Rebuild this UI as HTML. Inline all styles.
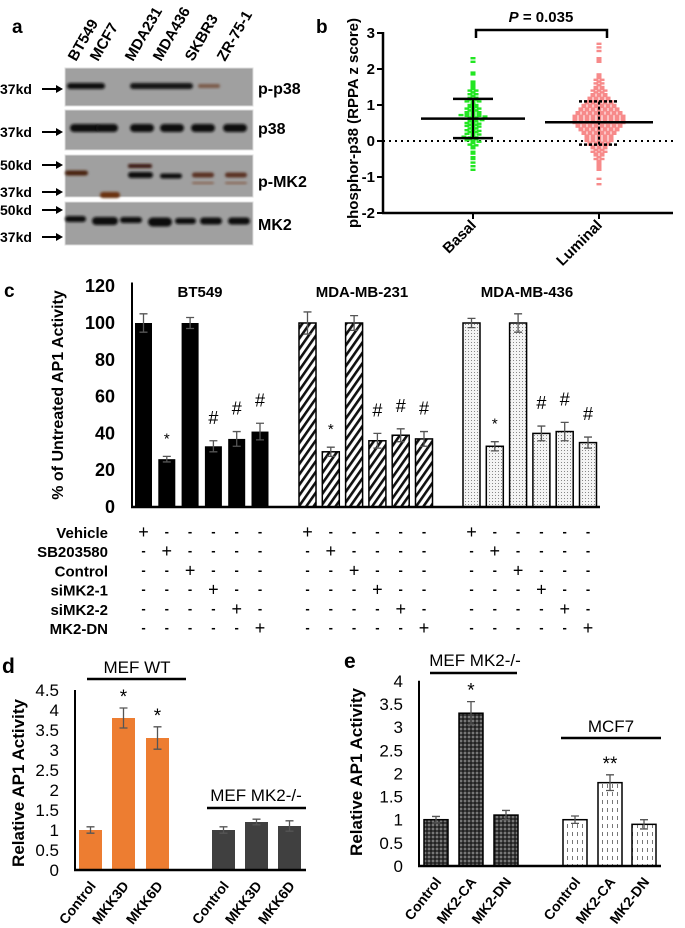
<!DOCTYPE html>
<html><head><meta charset="utf-8"><style>
html,body{margin:0;padding:0;background:#fff;}
svg{display:block;font-family:"Liberation Sans",Arial,sans-serif;}
</style></head><body>
<svg id="fig" width="685" height="928" viewBox="0 0 685 928" xmlns="http://www.w3.org/2000/svg">
<defs>
<filter id="blur" x="-20%" y="-50%" width="140%" height="200%"><feGaussianBlur stdDeviation="1.3"/></filter>
<pattern id="hatch" width="6" height="6" patternUnits="userSpaceOnUse" patternTransform="rotate(35)"><rect width="6" height="6" fill="#fff"/><rect width="2.6" height="6" fill="#111"/></pattern>
<pattern id="dots" width="3" height="3" patternUnits="userSpaceOnUse"><rect width="3" height="3" fill="#f4f4f4"/><rect x="0" y="0" width="1" height="1" fill="#888"/></pattern>
<pattern id="check" width="4" height="4" patternUnits="userSpaceOnUse"><rect width="4" height="4" fill="#3a3a3a"/><rect x="0" y="0" width="2" height="2" fill="#777"/><rect x="2" y="2" width="2" height="2" fill="#222"/></pattern>
<pattern id="dash" width="5" height="8" patternUnits="userSpaceOnUse"><rect width="5" height="8" fill="#fff"/><rect x="2" y="0" width="1" height="4" fill="#777"/></pattern>
</defs>
<g id="panelA"></g>
<g id="panelB"></g>
<g id="panelC"></g>
<g id="panelD"></g>
<g id="panelE"></g>
</svg>
<script>
// ---------- Panel B data ----------
const bCategories=['Basal','Luminal'];
const bTicks=[3,2,1,0,-1,-2];
const bBasal=[2.3,2.2,1.9,1.85,1.65,1.6,1.55,1.5,1.45,1.4,1.4,1.35,1.3,1.3,1.25,1.2,1.2,1.15,1.15,1.1,1.1,1.1,1.05,1.0,1.0,0.95,0.95,0.9,0.9,0.9,0.85,0.85,0.8,0.8,0.8,0.75,0.75,0.75,0.72,0.7,0.7,0.7,0.68,0.65,0.65,0.62,0.6,0.6,0.58,0.55,0.55,0.5,0.5,0.48,0.45,0.45,0.42,0.4,0.4,0.35,0.35,0.3,0.3,0.28,0.25,0.25,0.2,0.2,0.18,0.15,0.12,0.1,0.1,0.08,0.05,0.05,0.02,0.0,-0.02,-0.05,-0.1,-0.12,-0.15,-0.2,-0.3,-0.35,-0.45,-0.5,-0.6,-0.7,-0.8];
const bLuminal=[2.7,2.6,2.5,2.3,2.25,2.2,1.85,1.8,1.75,1.7,1.7,1.65,1.6,1.6,1.55,1.5,1.5,1.45,1.45,1.4,1.4,1.4,1.35,1.35,1.3,1.3,1.3,1.25,1.25,1.25,1.2,1.2,1.2,1.2,1.15,1.15,1.15,1.15,1.1,1.1,1.1,1.1,1.1,1.05,1.05,1.05,1.05,1.05,1.0,1.0,1.0,1.0,1.0,1.0,0.95,0.95,0.95,0.95,0.95,0.95,0.9,0.9,0.9,0.9,0.9,0.9,0.9,0.85,0.85,0.85,0.85,0.85,0.85,0.85,0.8,0.8,0.8,0.8,0.8,0.8,0.8,0.8,0.75,0.75,0.75,0.75,0.75,0.75,0.75,0.75,0.7,0.7,0.7,0.7,0.7,0.7,0.7,0.7,0.7,0.65,0.65,0.65,0.65,0.65,0.65,0.65,0.65,0.65,0.6,0.6,0.6,0.6,0.6,0.6,0.6,0.6,0.6,0.55,0.55,0.55,0.55,0.55,0.55,0.55,0.55,0.55,0.5,0.5,0.5,0.5,0.5,0.5,0.5,0.5,0.5,0.45,0.45,0.45,0.45,0.45,0.45,0.45,0.45,0.4,0.4,0.4,0.4,0.4,0.4,0.4,0.4,0.35,0.35,0.35,0.35,0.35,0.35,0.35,0.3,0.3,0.3,0.3,0.3,0.3,0.3,0.25,0.25,0.25,0.25,0.25,0.25,0.2,0.2,0.2,0.2,0.2,0.2,0.15,0.15,0.15,0.15,0.15,0.1,0.1,0.1,0.1,0.1,0.05,0.05,0.05,0.05,0.05,0.0,0.0,0.0,0.0,0.0,-0.05,-0.05,-0.05,-0.05,-0.1,-0.1,-0.1,-0.1,-0.15,-0.15,-0.15,-0.2,-0.2,-0.2,-0.25,-0.25,-0.3,-0.3,-0.3,-0.35,-0.35,-0.4,-0.4,-0.45,-0.5,-0.5,-0.55,-0.6,-0.65,-0.7,-0.75,-0.8,-1.05,-1.2];
const bMeans=[0.62,0.52];
const bSDlow=[0.08,-0.1];
const bSDhigh=[1.17,1.1];
// ---------- Panel C data ----------
const cGroups=['BT549','MDA-MB-231','MDA-MB-436'];
const cBT549=[100,26,100,33,37,41];
const cMDA231=[100,30,100,36,39,37];
const cMDA436=[100,33,100,40,41,35];
const cErrBT549=[5,1.5,3,3,4,4.5];
const cErrMDA231=[6,2.5,4,4,3.5,4];
const cErrMDA436=[2.5,2.5,5,4,5,3];
const cSig=['','*','','#','#','#'];
const cTicks=[0,20,40,60,80,100,120];
const cTreatments=['Vehicle','SB203580','Control','siMK2-1','siMK2-2','MK2-DN'];
// ---------- Panel D data ----------
const dCategories=['Control','MKK3D','MKK6D','Control','MKK3D','MKK6D'];
const dValues=[1.0,3.8,3.3,1.0,1.2,1.1];
const dErrors=[0.08,0.25,0.28,0.08,0.07,0.13];
const dSig=['','*','*','','',''];
const dTicks=['0','0.5','1','1.5','2','2.5','3','3.5','4','4.5'];
// ---------- Panel E data ----------
const eCategories=['Control','MK2-CA','MK2-DN','Control','MK2-CA','MK2-DN'];
const eValues=[1.0,3.3,1.1,1.0,1.8,0.9];
const eErrors=[0.07,0.25,0.1,0.08,0.17,0.1];
const eSig=['','*','','','**',''];
const eTicks=['0','0.5','1','1.5','2','2.5','3','3.5','4'];

const NS='http://www.w3.org/2000/svg';
function mk(parent,tag,attrs,text){const e=document.createElementNS(NS,tag);for(const k in attrs)e.setAttribute(k,attrs[k]);if(text!==undefined)e.textContent=text;parent.appendChild(e);return e;}

// ================= Panel A =================
const A=document.getElementById('panelA');
let t;
t=mk(A,'text',{x:12,y:33,'font-size':19,'font-weight':'bold'},'a');


const lanes=['BT549','MCF7','MDA231','MDA436','SKBR3','ZR-75-1'];
const laneX=[85,107,142,170,202,234];
lanes.forEach((l,i)=>{const e=mk(A,'text',{x:laneX[i]-9,y:62,'font-size':15,'font-weight':'bold',transform:`rotate(-60 ${laneX[i]-9} 62)`},l);

});
const boxes=[[68,106,'p-p38',88],[110,150,'p38',128],[155,197,'p-MK2',181],[202,245,'MK2',224]];
boxes.forEach(b=>{const r=mk(A,'rect',{x:65,y:b[0],width:188,height:b[1]-b[0],fill:'#a0a0a0',stroke:'#ddd','stroke-width':1});


const e=mk(A,'text',{x:258,y:b[3]+6,'font-size':16,'font-weight':'bold'},b[2]);

});
const bands=[[67,105,86,3,'#111'],[130,193,86,3,'#151515'],[198,220,86,2,'#7a5a4a'],
[70,100,128,4,'#111'],[96,118,128,4,'#111'],[130,154,128,4,'#111'],[160,184,128,4,'#111'],[191,215,128,4,'#111'],[223,247,128,4,'#111'],
[65,88,173,2.5,'#4a2010'],[128,152,166,2,'#3a1510'],[128,153,175,3,'#111'],[160,182,176,2.5,'#111'],[192,214,175,2.5,'#5a3020'],[225,247,175,2.5,'#5a3020'],[192,214,183,1.2,'#8a6a5a'],[225,247,183,1.2,'#8a6a5a'],[100,120,195,3,'#6a3010'],
[65,86,219,3,'#111'],[92,118,221,4,'#111'],[120,142,220,3,'#111'],[148,172,222,4.5,'#111'],[175,196,221,3,'#111'],[200,222,221,3.5,'#111'],[228,250,221,3.5,'#111']];
bands.forEach(b=>{const e=mk(A,'rect',{x:b[0],y:b[2]-b[3],width:b[1]-b[0],height:b[3]*2,rx:b[3],fill:b[4],filter:'url(#blur)'});

});
const markers=[['37kd',89],['37kd',132],['50kd',165],['37kd',192],['50kd',210],['37kd',237]];
markers.forEach(m=>{const e=mk(A,'text',{x:0,y:m[1]+5,'font-size':14,'font-weight':'bold'},m[0]);


mk(A,'line',{x1:42,y1:m[1],x2:58,y2:m[1],stroke:'#000','stroke-width':2});
mk(A,'polygon',{points:`56,${m[1]-4} 63,${m[1]} 56,${m[1]+4}`,fill:'#000'});});

// ================= Panel B =================
const B=document.getElementById('panelB');
t=mk(B,'text',{x:316,y:33,'font-size':19,'font-weight':'bold'},'b');


const bx0=383,bx1=673;
const yB=v=>141-v*36;
const catX=[473,599];
mk(B,'line',{x1:bx0,y1:yB(3)-1,x2:bx0,y2:yB(-2),stroke:'#000','stroke-width':2.5});
mk(B,'line',{x1:bx0-1,y1:yB(-2),x2:bx1,y2:yB(-2),stroke:'#000','stroke-width':2.5});
bTicks.forEach(v=>{mk(B,'line',{x1:bx0-6,y1:yB(v),x2:bx0,y2:yB(v),stroke:'#000','stroke-width':2});
const e=mk(B,'text',{x:bx0-8,y:yB(v)+5,'font-size':15,'font-weight':'bold','text-anchor':'end'},String(v));

});
t=mk(B,'text',{x:0,y:0,'font-size':15,'font-weight':'bold','text-anchor':'middle',transform:'translate(358 123) rotate(-90)'},'phosphor-p38 (RPPA z score)');


mk(B,'line',{x1:bx0,y1:yB(0),x2:bx1,y2:yB(0),stroke:'#000','stroke-width':2,'stroke-dasharray':'2 4'});
function swarm(vals,cx,maxHalf,color,name){
  const rowH=0.05,rows={};
  vals.forEach(v=>{const k=Math.round(v/rowH);(rows[k]=rows[k]||[]).push(v);});
  let maxC=0;for(const k in rows)maxC=Math.max(maxC,rows[k].length);
  const sp=Math.min(6,(maxHalf*2)/maxC);
  for(const k in rows){const r=rows[k];r.forEach((v,i)=>{const off=(i-(r.length-1)/2)*sp;
    const e=mk(B,'rect',{x:cx+off-sp/2+0.5,y:yB(v)-1.2,width:Math.max(2,sp-1),height:2.4,fill:color});
    
    });}
}
swarm(bBasal,catX[0],28,'#22e622','basal-point');
swarm(bLuminal,catX[1],56,'#f78a8a','luminal-point');
const mHalf=[52,54],sdHalf=[20,20];
[0,1].forEach(i=>{const cx=catX[i];
 const e=mk(B,'line',{x1:cx-mHalf[i],y1:yB(bMeans[i]),x2:cx+mHalf[i],y2:yB(bMeans[i]),stroke:'#000','stroke-width':2.5});
 
 
 const dash=i==1?'3 2':'none';
 mk(B,'line',{x1:cx,y1:yB(bSDlow[i]),x2:cx,y2:yB(bSDhigh[i]),stroke:'#000','stroke-width':2,'stroke-dasharray':dash});
 mk(B,'line',{x1:cx-sdHalf[i],y1:yB(bSDlow[i]),x2:cx+sdHalf[i],y2:yB(bSDlow[i]),stroke:'#000','stroke-width':2.5,'stroke-dasharray':dash});
 mk(B,'line',{x1:cx-sdHalf[i],y1:yB(bSDhigh[i]),x2:cx+sdHalf[i],y2:yB(bSDhigh[i]),stroke:'#000','stroke-width':2.5,'stroke-dasharray':dash});
 mk(B,'line',{x1:cx,y1:yB(-2),x2:cx,y2:yB(-2)+6,stroke:'#000','stroke-width':2});
 const l=mk(B,'text',{x:cx+4,y:yB(-2)+13,'font-size':15,'font-weight':'bold','text-anchor':'end',transform:`rotate(-45 ${cx+4} ${yB(-2)+13})`},bCategories[i]);
 
 });
mk(B,'path',{d:`M476 38 V30 H607 V38`,fill:'none',stroke:'#000','stroke-width':2.5});
t=mk(B,'text',{x:541,y:22,'font-size':15,'font-weight':'bold','text-anchor':'middle'});


mk(t,'tspan',{'font-style':'italic'},'P');mk(t,'tspan',{},' = 0.035');

// ================= Panel C =================
const C=document.getElementById('panelC');
t=mk(C,'text',{x:4,y:297,'font-size':19,'font-weight':'bold'},'c');


const yC=v=>507-v*1.84;
const xC=(g,i)=>135+g*164+i*23.3;
const cW=17;
mk(C,'line',{x1:132,y1:yC(122),x2:132,y2:yC(0),stroke:'#000','stroke-width':2});
cTicks.forEach(v=>{const e=mk(C,'text',{x:115,y:yC(v)+6,'font-size':18,'font-weight':'bold','text-anchor':'end'},String(v));

});
t=mk(C,'text',{x:0,y:0,'font-size':16,'font-weight':'bold','text-anchor':'middle',transform:'translate(63 395) rotate(-90)'},'% of Untreated AP1 Activity');


const cSeries=[cBT549,cMDA231,cMDA436],cErrs=[cErrBT549,cErrMDA231,cErrMDA436],cFill=['#000','url(#hatch)','url(#dots)'];
const cTitleX=[200,362,527];
cSeries.forEach((vals,g)=>{
 const e=mk(C,'text',{x:cTitleX[g],y:297,'font-size':15,'font-weight':'bold','text-anchor':'middle'},cGroups[g]);
 
 
 vals.forEach((v,i)=>{const x=xC(g,i);
  const r=mk(C,'rect',{x:x,y:yC(v),width:cW,height:yC(0)-yC(v),fill:cFill[g],stroke:'#000','stroke-width':g?1.5:0});
  
  
  const er=cErrs[g][i],cx=x+cW/2;
  mk(C,'path',{d:`M${cx} ${yC(v-er)} V${yC(v+er)} M${cx-4} ${yC(v-er)} H${cx+4} M${cx-4} ${yC(v+er)} H${cx+4}`,stroke:'#555','stroke-width':1.3,fill:'none'});
  if(cSig[i]){const s=mk(C,'text',{x:cx,y:yC(v+er)-(cSig[i]=='*'?13:17),'font-size':cSig[i]=='*'?15:18,'text-anchor':'middle'},cSig[i]);
   
   }
 });
});
mk(C,'line',{x1:131,y1:yC(0),x2:600,y2:yC(0),stroke:'#000','stroke-width':2.5});
cTreatments.forEach((tr,r)=>{const y=532+r*19.2;
 const e=mk(C,'text',{x:108,y:y+6,'font-size':15,'font-weight':'bold','text-anchor':'end'},tr);
 
 
 for(let g=0;g<3;g++)for(let i=0;i<6;i++){const cx=xC(g,i)+cW/2;
  if(i==r){const p=mk(C,'text',{x:cx,y:y+6,'font-size':18,'text-anchor':'middle'},'+');
   
   }
  else{const d=mk(C,'text',{x:cx,y:y+4,'font-size':13,'font-weight':'bold','text-anchor':'middle'},'-');
   
   }
 }
});

// ================= Panel D =================
const D=document.getElementById('panelD');
t=mk(D,'text',{x:2,y:673,'font-size':21,'font-weight':'bold'},'d');


const yD=v=>870-v*40;
const dLeft=[79,112,146,212,245,278],dW=23;
mk(D,'line',{x1:75,y1:yD(4.5),x2:75,y2:yD(0),stroke:'#000','stroke-width':2});
dTicks.forEach(s=>{const e=mk(D,'text',{x:59,y:yD(parseFloat(s))+6,'font-size':17,'text-anchor':'end'},s);

});
t=mk(D,'text',{x:0,y:0,'font-size':17,'font-weight':'bold','text-anchor':'middle',transform:'translate(24 783) rotate(-90)'},'Relative AP1 Activity');


dValues.forEach((v,i)=>{const x=dLeft[i],cx=x+dW/2;
 const r=mk(D,'rect',{x:x,y:yD(v),width:dW,height:yD(0)-yD(v),fill:i<3?'#ed7d31':'#404040'});
 
 
 const er=dErrors[i];
 mk(D,'path',{d:`M${cx} ${yD(v-er)} V${yD(v+er)} M${cx-4} ${yD(v-er)} H${cx+4} M${cx-4} ${yD(v+er)} H${cx+4}`,stroke:'#555','stroke-width':1.3,fill:'none'});
 if(dSig[i]){const s=mk(D,'text',{x:cx,y:yD(v+er)-5,'font-size':19,'text-anchor':'middle'},dSig[i]);
  
  }
 const l=mk(D,'text',{x:cx+6,y:886,'font-size':14,'font-weight':'bold','text-anchor':'end',transform:`rotate(-52 ${cx+6} 886)`},dCategories[i]);
 
 
});
mk(D,'line',{x1:74,y1:yD(0),x2:306,y2:yD(0),stroke:'#000','stroke-width':2.5});
mk(D,'line',{x1:87,y1:679,x2:186,y2:679,stroke:'#000','stroke-width':2.5});
t=mk(D,'text',{x:137,y:673,'font-size':17,'text-anchor':'middle'},'MEF WT');


mk(D,'line',{x1:207,y1:808,x2:306,y2:808,stroke:'#000','stroke-width':2.5});
t=mk(D,'text',{x:256,y:801,'font-size':17,'text-anchor':'middle'},'MEF MK2-/-');



// ================= Panel E =================
const E=document.getElementById('panelE');
t=mk(E,'text',{x:344,y:668,'font-size':21,'font-weight':'bold'},'e');


const yE=v=>866-v*46.3;
const eLeft=[424,459,494,563,598,632],eW=24;
mk(E,'line',{x1:419,y1:yE(4),x2:419,y2:yE(0),stroke:'#000','stroke-width':2});
eTicks.forEach(s=>{const e=mk(E,'text',{x:403,y:yE(parseFloat(s))+6,'font-size':17,'text-anchor':'end'},s);

});
t=mk(E,'text',{x:0,y:0,'font-size':17,'font-weight':'bold','text-anchor':'middle',transform:'translate(362 772) rotate(-90)'},'Relative AP1 Activity');


eValues.forEach((v,i)=>{const x=eLeft[i],cx=x+eW/2;
 const r=mk(E,'rect',{x:x,y:yE(v),width:eW,height:yE(0)-yE(v),fill:i<3?'url(#check)':'url(#dash)',stroke:'#000','stroke-width':1.5});
 
 
 const er=eErrors[i];
 mk(E,'path',{d:`M${cx} ${yE(v-er)} V${yE(v+er)} M${cx-4} ${yE(v-er)} H${cx+4} M${cx-4} ${yE(v+er)} H${cx+4}`,stroke:'#555','stroke-width':1.3,fill:'none'});
 if(eSig[i]){const s=mk(E,'text',{x:cx,y:yE(v+er)-5,'font-size':19,'text-anchor':'middle'},eSig[i]);
  
  }
 const l=mk(E,'text',{x:cx+6,y:882,'font-size':14,'font-weight':'bold','text-anchor':'end',transform:`rotate(-52 ${cx+6} 882)`},eCategories[i]);
 
 
});
mk(E,'line',{x1:418,y1:yE(0),x2:661,y2:yE(0),stroke:'#000','stroke-width':2.5});
mk(E,'line',{x1:430,y1:673,x2:517,y2:673,stroke:'#000','stroke-width':2.5});
t=mk(E,'text',{x:475,y:666,'font-size':17,'text-anchor':'middle'},'MEF MK2-/-');


mk(E,'line',{x1:561,y1:738,x2:661,y2:738,stroke:'#000','stroke-width':2.5});
t=mk(E,'text',{x:611,y:732,'font-size':17,'text-anchor':'middle'},'MCF7');


</script>
</body></html>
